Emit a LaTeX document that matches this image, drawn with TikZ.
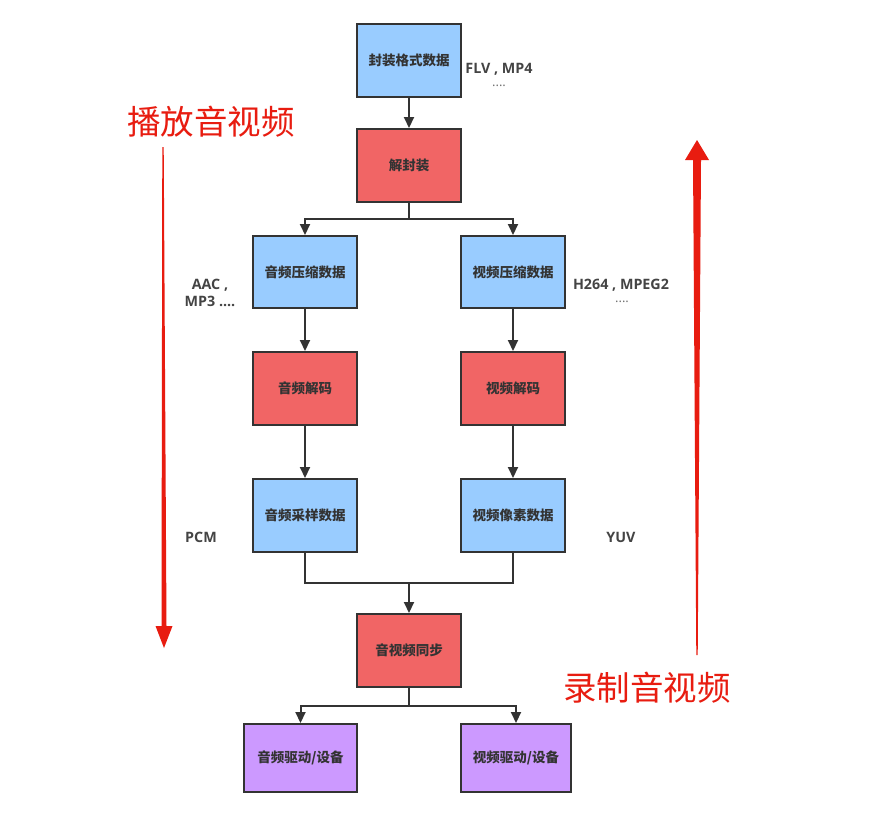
\documentclass[tikz,border=0pt]{standalone}
\usepackage{fontspec}
\newfontfamily\cjk{Noto Sans CJK SC}
\newfontfamily\lab{Open Sans}
\usetikzlibrary{arrows.meta}
\definecolor{bluefill}{RGB}{153,204,255}
\definecolor{redfill}{RGB}{241,101,101}
\definecolor{purplefill}{RGB}{204,153,255}
\definecolor{edge}{RGB}{51,51,51}
\definecolor{labgray}{RGB}{68,68,68}
\definecolor{dotgray}{RGB}{110,110,110}
\definecolor{titlered}{RGB}{232,28,16}
\tikzset{
  x=1pt, y=-1pt,
  box/.style={draw=edge, line width=2pt, minimum width=104pt, minimum height=73pt,
    inner sep=0pt, font=\cjk\bfseries\fontsize{13.5}{15}\selectfont, text=edge},
  bluebox/.style={box, fill=bluefill},
  redbox/.style={box, fill=redfill},
  purplebox/.style={box, fill=purplefill, minimum height=68pt},
  conn/.style={draw=edge, line width=2pt},
  arr/.style={conn, -{Triangle[length=11pt,width=10pt]}},
  fmt/.style={font=\lab\bfseries\fontsize{14.3}{17}\selectfont, text=labgray, inner sep=0pt, align=center},
  dots/.style={font=\lab\fontsize{13}{14}\selectfont, text=dotgray, inner sep=0pt},
  title/.style={font=\cjk\fontsize{33.5}{38}\selectfont, text=titlered, inner sep=0pt},
}
\begin{document}
\begin{tikzpicture}
\useasboundingbox (0,0) rectangle (885,817);
\fill[white] (0,0) rectangle (885,817);

% boxes
\node[bluebox] (A) at (409,60.5) {封装格式数据};
\node[redbox] (B) at (409,165.5) {解封装};
\node[bluebox, minimum height=72pt] (C) at (305,272) {音频压缩数据};
\node[bluebox, minimum height=72pt] (D) at (513,272) {视频压缩数据};
\node[redbox] (E) at (305,388.5) {音频解码};
\node[redbox] (F) at (513,388.5) {视频解码};
\node[bluebox] (G) at (305,515.5) {音频采样数据};
\node[bluebox] (H) at (513,515.5) {视频像素数据};
\node[redbox] (I) at (409,650.5) {音视频同步};
\node[purplebox, minimum width=113pt] (J) at (300.5,758) {音频驱动/设备};
\node[purplebox, minimum width=110pt] (K) at (516,758) {视频驱动/设备};

% connectors
\coordinate (s1) at (409,219);
\coordinate (m) at (409,583);
\coordinate (s2) at (409,706);
\draw[arr] (A.south) -- (B.north);
\draw[conn] (B.south) -- (s1);
\draw[arr] (s1) -| (C.north);
\draw[arr] (s1) -| (D.north);
\draw[arr] (C.south) -- (E.north);
\draw[arr] (D.south) -- (F.north);
\draw[arr] (E.south) -- (G.north);
\draw[arr] (F.south) -- (H.north);
\draw[conn] (G.south) |- (m);
\draw[conn] (H.south) |- (m);
\draw[arr] (m) -- (I.north);
\draw[conn] (I.south) -- (s2);
\draw[arr] (s2) -| (J.north);
\draw[arr] (s2) -| (K.north);

% format labels
\node[fmt] (fa) at (499,69) {FLV , MP4};
\node[dots] (fad) at (499,86) {....};
\node[fmt] (fc) at (210,293) {AAC ,\\MP3 ....};
\node[fmt] (fd) at (621,285) {H264 , MPEG2};
\node[dots] (fdd) at (622,302) {....};
\node[fmt] (fg) at (201,537) {PCM};
\node[fmt] (fh) at (621,537) {YUV};

% titles
\node[title] (t1) at (211,122) {播放音视频};
\node[title] (t2) at (647,688) {录制音视频};

% tapered red arrows
\fill[titlered] (162.3,147) -- (163.7,147) -- (166.5,626) -- (172.5,626) -- (164,648)
  -- (155.5,626) -- (161.5,626) -- cycle;
\fill[titlered] (696.3,655) -- (697.7,655) -- (701,160) -- (709,160) -- (697,140)
  -- (685,160) -- (693,160) -- cycle;
\end{tikzpicture}
\end{document}
